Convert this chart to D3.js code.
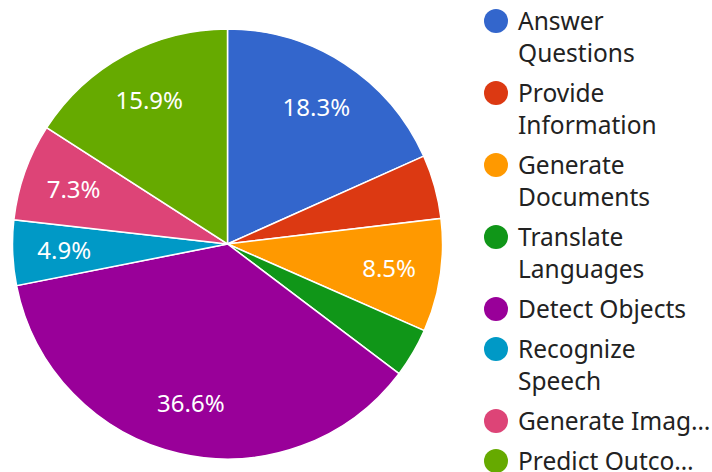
<!DOCTYPE html>
<html><head><meta charset="utf-8">
<script src="https://cdn.jsdelivr.net/npm/d3@7"></script>
<style>html,body{margin:0;padding:0;background:#fff;}svg{display:block;}</style>
</head><body>
<svg id="c" width="712" height="472"></svg>
<script>
const categories = ["Answer Questions","Provide Information","Generate Documents","Translate Languages","Detect Objects","Recognize Speech","Generate Images","Predict Outcomes"];
const values = [18.3, 4.8, 8.5, 3.7, 36.6, 4.9, 7.3, 15.9];
const legendLines = [["Answer","Questions"],["Provide","Information"],["Generate","Documents"],["Translate","Languages"],["Detect Objects"],["Recognize","Speech"],["Generate Imag…"],["Predict Outco…"]];
const colors = ["#3366cc","#dc3912","#ff9900","#109618","#990099","#0099c6","#dd4477","#66aa00"];

const svg = d3.select("#c");
const cx = 227.5, cy = 244, r = 215;
const font = "'Noto Sans', sans-serif";
const total = d3.sum(values);
const pie = d3.pie().sort(null).value(d => d)(values);
const arc = d3.arc().innerRadius(0).outerRadius(r);
const g = svg.append("g").attr("transform", `translate(${cx},${cy})`);
g.selectAll("path").data(pie).join("path")
  .attr("d", arc).attr("fill", (d,i) => colors[i])
  .attr("stroke", "#fff").attr("stroke-width", 1.5);
const labelArc = d3.arc().innerRadius(r*0.76).outerRadius(r*0.76);
g.selectAll("text").data(pie.filter(d => d.value / total >= 0.0485)).join("text")
  .attr("transform", d => `translate(${labelArc.centroid(d)})`)
  .attr("text-anchor", "middle").attr("dy", "0.36em")
  .attr("fill", "#fff").attr("font-family", font).attr("font-size", 24)
  .text(d => d3.format(".1%")(d.value / total));

const lg = svg.append("g");
let y = 21;
legendLines.forEach((lines, i) => {
  lg.append("circle").attr("cx", 496).attr("cy", y).attr("r", 12).attr("fill", colors[i]);
  lines.forEach((t, j) => {
    lg.append("text").attr("x", 518).attr("y", y + j*32).attr("dy", "0.36em")
      .attr("font-family", font).attr("font-size", 24.5).attr("fill", "#222").text(t);
  });
  y += (lines.length - 1) * 32 + 40;
});
</script>
</body></html>
